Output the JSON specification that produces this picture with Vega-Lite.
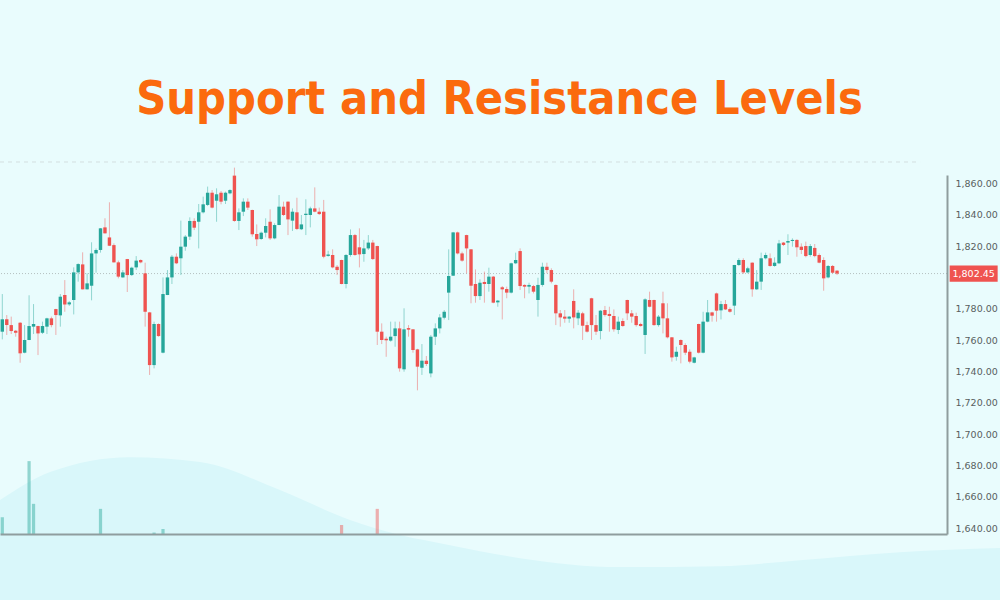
{
  "$schema": "https://vega.github.io/schema/vega-lite/v6.json",
  "width": 947,
  "height": 359,
  "autosize": {"type": "none"},
  "padding": {"left": 0, "top": 175, "right": 53, "bottom": 66},
  "background": "#e9fcfd",
  "config": {"view": {"stroke": null}},
  "title": {
    "text": "Support and Resistance Levels",
    "color": "#fb6a0e",
    "font": "DejaVu Sans Condensed",
    "fontWeight": "bold",
    "fontSize": 46.5,
    "anchor": "middle",
    "dx": 26,
    "dy": 61,
    "baseline": "alphabetic",
    "offset": 62
  },
  "datasets": {
    "candles": [
      {"i":0,"o":1765.4,"h":1789.4,"l":1760.5,"c":1773.3},
      {"i":1,"o":1773.3,"h":1776.0,"l":1763.3,"c":1769.6},
      {"i":2,"o":1769.6,"h":1775.0,"l":1763.9,"c":1765.8},
      {"i":3,"o":1766.0,"h":1766.5,"l":1762.2,"c":1764.7},
      {"i":4,"o":1771.1,"h":1771.5,"l":1745.6,"c":1751.6},
      {"i":5,"o":1752.0,"h":1769.6,"l":1751.6,"c":1760.1},
      {"i":6,"o":1760.1,"h":1788.6,"l":1760.0,"c":1769.0},
      {"i":7,"o":1768.6,"h":1783.0,"l":1763.9,"c":1770.3},
      {"i":8,"o":1769.0,"h":1769.2,"l":1750.5,"c":1764.3},
      {"i":9,"o":1764.7,"h":1771.8,"l":1763.9,"c":1769.0},
      {"i":10,"o":1768.6,"h":1774.3,"l":1763.9,"c":1773.9},
      {"i":11,"o":1773.9,"h":1775.0,"l":1768.2,"c":1769.6},
      {"i":12,"o":1779.8,"h":1780.0,"l":1763.3,"c":1776.0},
      {"i":13,"o":1775.8,"h":1789.4,"l":1768.6,"c":1787.7},
      {"i":14,"o":1788.8,"h":1798.3,"l":1778.1,"c":1782.8},
      {"i":15,"o":1782.8,"h":1784.9,"l":1781.8,"c":1784.1},
      {"i":16,"o":1785.6,"h":1806.4,"l":1776.4,"c":1803.2},
      {"i":17,"o":1803.2,"h":1809.0,"l":1797.3,"c":1808.5},
      {"i":18,"o":1808.3,"h":1816.0,"l":1792.3,"c":1792.4},
      {"i":19,"o":1792.4,"h":1802.6,"l":1792.3,"c":1796.2},
      {"i":20,"o":1794.7,"h":1822.4,"l":1785.4,"c":1815.3},
      {"i":21,"o":1815.3,"h":1818.5,"l":1803.0,"c":1817.5},
      {"i":22,"o":1817.5,"h":1831.5,"l":1815.8,"c":1831.3},
      {"i":23,"o":1831.9,"h":1837.7,"l":1828.0,"c":1828.1},
      {"i":24,"o":1825.5,"h":1847.9,"l":1820.0,"c":1820.2},
      {"i":25,"o":1820.6,"h":1821.7,"l":1809.5,"c":1809.6},
      {"i":26,"o":1809.6,"h":1810.7,"l":1799.4,"c":1800.5},
      {"i":27,"o":1800.0,"h":1804.7,"l":1799.8,"c":1803.2},
      {"i":28,"o":1811.7,"h":1811.8,"l":1790.7,"c":1801.5},
      {"i":29,"o":1801.5,"h":1806.8,"l":1800.9,"c":1806.2},
      {"i":30,"o":1806.4,"h":1813.6,"l":1804.7,"c":1810.7},
      {"i":31,"o":1811.1,"h":1811.5,"l":1809.0,"c":1809.6},
      {"i":32,"o":1802.6,"h":1809.4,"l":1768.6,"c":1778.1},
      {"i":33,"o":1777.7,"h":1778.0,"l":1737.8,"c":1744.1},
      {"i":34,"o":1744.1,"h":1771.8,"l":1742.0,"c":1770.3},
      {"i":35,"o":1770.3,"h":1770.7,"l":1762.2,"c":1762.6},
      {"i":36,"o":1752.0,"h":1800.0,"l":1751.6,"c":1789.4},
      {"i":37,"o":1788.8,"h":1804.7,"l":1788.7,"c":1800.0},
      {"i":38,"o":1800.0,"h":1814.3,"l":1795.8,"c":1813.2},
      {"i":39,"o":1813.2,"h":1815.3,"l":1808.5,"c":1809.0},
      {"i":40,"o":1812.2,"h":1836.2,"l":1801.5,"c":1819.6},
      {"i":41,"o":1819.6,"h":1827.0,"l":1817.0,"c":1826.0},
      {"i":42,"o":1826.0,"h":1838.3,"l":1823.9,"c":1836.0},
      {"i":43,"o":1836.0,"h":1837.7,"l":1830.2,"c":1831.7},
      {"i":44,"o":1835.5,"h":1846.8,"l":1818.5,"c":1841.5},
      {"i":45,"o":1841.5,"h":1851.5,"l":1840.8,"c":1846.6},
      {"i":46,"o":1846.2,"h":1857.9,"l":1845.5,"c":1854.0},
      {"i":47,"o":1854.0,"h":1855.7,"l":1844.0,"c":1844.5},
      {"i":48,"o":1848.9,"h":1856.8,"l":1835.5,"c":1853.0},
      {"i":49,"o":1854.0,"h":1855.1,"l":1846.6,"c":1848.3},
      {"i":50,"o":1848.9,"h":1854.7,"l":1846.8,"c":1854.0},
      {"i":51,"o":1853.6,"h":1856.2,"l":1853.0,"c":1855.7},
      {"i":52,"o":1864.9,"h":1870.0,"l":1835.5,"c":1836.0},
      {"i":53,"o":1836.0,"h":1844.0,"l":1830.2,"c":1841.5},
      {"i":54,"o":1841.9,"h":1850.4,"l":1839.1,"c":1848.3},
      {"i":55,"o":1848.3,"h":1850.4,"l":1843.0,"c":1844.5},
      {"i":56,"o":1843.0,"h":1843.2,"l":1826.0,"c":1827.5},
      {"i":57,"o":1827.7,"h":1833.8,"l":1820.0,"c":1824.3},
      {"i":58,"o":1824.5,"h":1829.2,"l":1823.9,"c":1828.5},
      {"i":59,"o":1828.5,"h":1837.7,"l":1825.5,"c":1832.8},
      {"i":60,"o":1835.5,"h":1843.4,"l":1823.9,"c":1824.9},
      {"i":61,"o":1824.9,"h":1834.5,"l":1824.3,"c":1833.4},
      {"i":62,"o":1833.4,"h":1852.5,"l":1833.3,"c":1845.1},
      {"i":63,"o":1845.1,"h":1848.3,"l":1839.2,"c":1839.8},
      {"i":64,"o":1848.3,"h":1848.5,"l":1827.0,"c":1837.0},
      {"i":65,"o":1836.2,"h":1844.0,"l":1829.6,"c":1841.9},
      {"i":66,"o":1841.5,"h":1850.8,"l":1830.2,"c":1830.9},
      {"i":67,"o":1830.7,"h":1839.8,"l":1830.2,"c":1833.8},
      {"i":68,"o":1839.8,"h":1849.8,"l":1827.0,"c":1840.6},
      {"i":69,"o":1839.8,"h":1845.1,"l":1831.9,"c":1844.0},
      {"i":70,"o":1844.0,"h":1857.4,"l":1841.5,"c":1841.9},
      {"i":71,"o":1841.9,"h":1844.5,"l":1839.8,"c":1840.4},
      {"i":72,"o":1841.9,"h":1849.4,"l":1812.2,"c":1813.2},
      {"i":73,"o":1813.7,"h":1817.0,"l":1813.2,"c":1814.6},
      {"i":74,"o":1814.3,"h":1817.9,"l":1805.8,"c":1806.4},
      {"i":75,"o":1806.8,"h":1807.9,"l":1801.5,"c":1804.7},
      {"i":76,"o":1811.1,"h":1811.3,"l":1795.6,"c":1795.8},
      {"i":77,"o":1795.8,"h":1814.9,"l":1793.0,"c":1814.3},
      {"i":78,"o":1814.3,"h":1830.6,"l":1813.2,"c":1827.0},
      {"i":79,"o":1827.0,"h":1827.7,"l":1813.8,"c":1814.3},
      {"i":80,"o":1819.2,"h":1831.3,"l":1806.4,"c":1814.7},
      {"i":81,"o":1814.9,"h":1823.9,"l":1810.0,"c":1818.5},
      {"i":82,"o":1818.5,"h":1827.0,"l":1817.5,"c":1822.2},
      {"i":83,"o":1822.2,"h":1823.9,"l":1811.1,"c":1811.7},
      {"i":84,"o":1820.0,"h":1820.2,"l":1756.9,"c":1765.4},
      {"i":85,"o":1765.4,"h":1770.7,"l":1757.5,"c":1760.1},
      {"i":86,"o":1760.9,"h":1762.2,"l":1749.4,"c":1759.9},
      {"i":87,"o":1759.7,"h":1771.8,"l":1759.0,"c":1762.2},
      {"i":88,"o":1762.6,"h":1771.8,"l":1755.8,"c":1767.5},
      {"i":89,"o":1767.5,"h":1771.8,"l":1739.9,"c":1742.0},
      {"i":90,"o":1741.4,"h":1780.3,"l":1739.9,"c":1766.9},
      {"i":91,"o":1767.7,"h":1769.6,"l":1762.2,"c":1766.7},
      {"i":92,"o":1766.9,"h":1767.0,"l":1752.0,"c":1753.7},
      {"i":93,"o":1754.1,"h":1754.5,"l":1728.0,"c":1743.1},
      {"i":94,"o":1742.4,"h":1757.5,"l":1737.8,"c":1746.9},
      {"i":95,"o":1746.9,"h":1749.9,"l":1743.5,"c":1744.8},
      {"i":96,"o":1738.8,"h":1763.3,"l":1736.3,"c":1762.2},
      {"i":97,"o":1762.2,"h":1770.7,"l":1756.9,"c":1767.5},
      {"i":98,"o":1767.5,"h":1776.6,"l":1764.3,"c":1774.5},
      {"i":99,"o":1774.3,"h":1779.2,"l":1773.2,"c":1778.1},
      {"i":100,"o":1790.3,"h":1817.9,"l":1772.8,"c":1800.9},
      {"i":101,"o":1801.1,"h":1829.0,"l":1800.9,"c":1828.7},
      {"i":102,"o":1828.7,"h":1829.2,"l":1814.7,"c":1815.3},
      {"i":103,"o":1815.3,"h":1816.4,"l":1810.0,"c":1810.7},
      {"i":104,"o":1827.0,"h":1827.2,"l":1802.6,"c":1818.5},
      {"i":105,"o":1817.9,"h":1818.1,"l":1783.5,"c":1794.7},
      {"i":106,"o":1795.8,"h":1805.1,"l":1783.9,"c":1788.1},
      {"i":107,"o":1788.1,"h":1798.8,"l":1785.6,"c":1796.6},
      {"i":108,"o":1797.1,"h":1803.7,"l":1783.9,"c":1795.8},
      {"i":109,"o":1795.8,"h":1806.2,"l":1790.9,"c":1800.5},
      {"i":110,"o":1800.5,"h":1800.9,"l":1783.5,"c":1783.9},
      {"i":111,"o":1784.1,"h":1785.6,"l":1781.3,"c":1785.2},
      {"i":112,"o":1793.7,"h":1794.5,"l":1773.2,"c":1792.4},
      {"i":113,"o":1792.6,"h":1794.1,"l":1786.7,"c":1790.3},
      {"i":114,"o":1790.3,"h":1809.4,"l":1789.8,"c":1809.0},
      {"i":115,"o":1809.0,"h":1815.8,"l":1808.5,"c":1811.1},
      {"i":116,"o":1816.8,"h":1818.5,"l":1792.0,"c":1794.5},
      {"i":117,"o":1795.2,"h":1795.6,"l":1786.7,"c":1794.1},
      {"i":118,"o":1794.1,"h":1796.6,"l":1789.8,"c":1795.2},
      {"i":119,"o":1794.5,"h":1795.2,"l":1789.8,"c":1790.9},
      {"i":120,"o":1785.6,"h":1799.8,"l":1775.0,"c":1795.2},
      {"i":121,"o":1795.2,"h":1809.4,"l":1794.1,"c":1806.8},
      {"i":122,"o":1806.8,"h":1809.4,"l":1802.6,"c":1804.7},
      {"i":123,"o":1804.7,"h":1805.8,"l":1796.2,"c":1797.3},
      {"i":124,"o":1795.2,"h":1795.5,"l":1769.6,"c":1777.1},
      {"i":125,"o":1777.1,"h":1779.2,"l":1768.6,"c":1774.5},
      {"i":126,"o":1775.0,"h":1779.2,"l":1771.1,"c":1773.7},
      {"i":127,"o":1773.7,"h":1775.4,"l":1771.1,"c":1775.0},
      {"i":128,"o":1785.0,"h":1792.4,"l":1767.5,"c":1774.5},
      {"i":129,"o":1773.9,"h":1779.2,"l":1769.6,"c":1777.5},
      {"i":130,"o":1777.1,"h":1778.1,"l":1760.1,"c":1769.2},
      {"i":131,"o":1769.6,"h":1771.8,"l":1764.8,"c":1765.4},
      {"i":132,"o":1786.7,"h":1787.0,"l":1760.1,"c":1769.6},
      {"i":133,"o":1769.6,"h":1776.0,"l":1763.3,"c":1765.4},
      {"i":134,"o":1765.8,"h":1779.2,"l":1760.5,"c":1778.8},
      {"i":135,"o":1779.2,"h":1781.8,"l":1775.0,"c":1776.0},
      {"i":136,"o":1776.7,"h":1781.3,"l":1765.4,"c":1775.4},
      {"i":137,"o":1775.4,"h":1779.6,"l":1765.4,"c":1766.9},
      {"i":138,"o":1766.5,"h":1775.0,"l":1763.9,"c":1771.8},
      {"i":139,"o":1772.2,"h":1773.9,"l":1768.6,"c":1769.0},
      {"i":140,"o":1785.6,"h":1785.8,"l":1772.8,"c":1777.1},
      {"i":141,"o":1777.1,"h":1779.2,"l":1771.1,"c":1775.0},
      {"i":142,"o":1775.4,"h":1777.5,"l":1768.6,"c":1769.6},
      {"i":143,"o":1770.3,"h":1771.1,"l":1768.6,"c":1769.0},
      {"i":144,"o":1763.3,"h":1786.7,"l":1751.2,"c":1786.0},
      {"i":145,"o":1785.6,"h":1790.9,"l":1780.9,"c":1781.3},
      {"i":146,"o":1785.6,"h":1785.8,"l":1769.2,"c":1769.6},
      {"i":147,"o":1769.6,"h":1776.0,"l":1768.6,"c":1775.0},
      {"i":148,"o":1783.5,"h":1790.9,"l":1764.3,"c":1773.9},
      {"i":149,"o":1773.9,"h":1783.5,"l":1761.1,"c":1761.8},
      {"i":150,"o":1761.8,"h":1762.0,"l":1746.3,"c":1749.0},
      {"i":151,"o":1749.4,"h":1755.8,"l":1746.9,"c":1752.6},
      {"i":152,"o":1760.1,"h":1760.5,"l":1745.2,"c":1756.9},
      {"i":153,"o":1756.9,"h":1758.0,"l":1750.5,"c":1752.0},
      {"i":154,"o":1752.6,"h":1754.1,"l":1745.2,"c":1746.3},
      {"i":155,"o":1745.6,"h":1749.4,"l":1745.2,"c":1749.0},
      {"i":156,"o":1770.3,"h":1770.5,"l":1751.5,"c":1752.0},
      {"i":157,"o":1752.0,"h":1778.1,"l":1751.6,"c":1771.8},
      {"i":158,"o":1771.8,"h":1785.6,"l":1771.4,"c":1777.7},
      {"i":159,"o":1777.7,"h":1778.1,"l":1771.8,"c":1775.6},
      {"i":160,"o":1789.8,"h":1790.3,"l":1771.8,"c":1778.8},
      {"i":161,"o":1779.0,"h":1785.0,"l":1773.2,"c":1783.0},
      {"i":162,"o":1783.0,"h":1785.6,"l":1779.2,"c":1779.6},
      {"i":163,"o":1779.8,"h":1780.9,"l":1777.5,"c":1778.1},
      {"i":164,"o":1782.0,"h":1808.0,"l":1776.0,"c":1807.9},
      {"i":165,"o":1807.9,"h":1812.2,"l":1807.3,"c":1811.1},
      {"i":166,"o":1811.1,"h":1812.2,"l":1802.2,"c":1803.2},
      {"i":167,"o":1803.2,"h":1806.8,"l":1802.6,"c":1805.8},
      {"i":168,"o":1809.4,"h":1809.6,"l":1787.7,"c":1792.4},
      {"i":169,"o":1792.4,"h":1804.7,"l":1792.0,"c":1797.3},
      {"i":170,"o":1797.3,"h":1815.8,"l":1792.0,"c":1812.2},
      {"i":171,"o":1812.2,"h":1815.8,"l":1811.5,"c":1814.3},
      {"i":172,"o":1812.2,"h":1815.3,"l":1806.8,"c":1807.3},
      {"i":173,"o":1807.3,"h":1812.8,"l":1806.8,"c":1809.4},
      {"i":174,"o":1809.0,"h":1823.9,"l":1808.5,"c":1821.7},
      {"i":175,"o":1822.2,"h":1822.6,"l":1820.0,"c":1820.7},
      {"i":176,"o":1822.2,"h":1827.5,"l":1814.3,"c":1823.2},
      {"i":177,"o":1823.2,"h":1824.9,"l":1819.6,"c":1823.9},
      {"i":178,"o":1823.9,"h":1824.3,"l":1813.2,"c":1819.2},
      {"i":179,"o":1819.6,"h":1821.7,"l":1814.9,"c":1817.5},
      {"i":180,"o":1820.0,"h":1822.8,"l":1812.8,"c":1813.6},
      {"i":181,"o":1814.3,"h":1821.3,"l":1813.2,"c":1820.0},
      {"i":182,"o":1818.8,"h":1821.3,"l":1812.8,"c":1813.6},
      {"i":183,"o":1814.3,"h":1815.3,"l":1809.0,"c":1809.4},
      {"i":184,"o":1811.1,"h":1812.8,"l":1791.5,"c":1799.4},
      {"i":185,"o":1800.0,"h":1807.9,"l":1799.4,"c":1807.3},
      {"i":186,"o":1807.3,"h":1807.9,"l":1802.6,"c":1803.0},
      {"i":187,"o":1804.3,"h":1804.7,"l":1801.5,"c":1802.45}
    ],
    "volume": [
      {"i":0,"vol":47,"up":true},
      {"i":6,"vol":203,"up":true},
      {"i":7,"vol":84,"up":true},
      {"i":22,"vol":70,"up":true},
      {"i":34,"vol":4,"up":true},
      {"i":36,"vol":14,"up":true},
      {"i":76,"vol":25,"up":false},
      {"i":84,"vol":70,"up":false}
    ],
    "wave": [
      {"i":-0.52,"w":1658.0},
      {"i":10.7,"w":1675.9},
      {"i":28.6,"w":1685.4},
      {"i":44.3,"w":1682.3},
      {"i":62.2,"w":1664.4},
      {"i":77.9,"w":1645.3},
      {"i":89.1,"w":1635.7},
      {"i":100.3,"w":1629.3},
      {"i":116.0,"w":1621.0},
      {"i":138.4,"w":1615.3},
      {"i":160.8,"w":1615.9},
      {"i":178.7,"w":1619.7},
      {"i":201.1,"w":1624.8},
      {"i":223.5,"w":1627.4}
    ],
    "last": [{"p":1802.45,"label":"1,802.45"}]
  },
  "layer": [
    {
      "layer": [
        {
          "data": {"name": "wave"},
          "mark": {"type": "area", "interpolate": "monotone", "color": "#d9f7fa"},
          "encoding": {
            "x": {"field": "i", "type": "quantitative", "scale": {"domain": [-0.515, 211.63], "nice": false, "zero": false, "padding": 0},
              "axis": {"orient": "bottom", "labels": false, "ticks": false, "title": null, "grid": false, "domainColor": "#8f9d9e", "domainWidth": 2, "zindex": 1}},
            "y": {"field": "w", "type": "quantitative", "scale": {"domain": [1636.4, 1865.3], "nice": false, "zero": false, "padding": 0},
              "axis": {"orient": "right", "values": [1640,1660,1680,1700,1720,1740,1760,1780,1820,1840,1860], "tickCount": 30, "format": ",.2f", "ticks": false, "labelPadding": 8, "labelOverlap": false, "labelFlush": false, "title": null, "grid": false, "domainColor": "#8f9d9e", "domainWidth": 2, "labelColor": "#585f60", "labelFont": "DejaVu Sans", "labelFontSize": 9.5, "zindex": 1}},
            "y2": {"datum": 1594}
          }
        },
        {
          "data": {"values": [{}]},
          "mark": {"type": "rule", "color": "#d3dfe0", "strokeDash": [4, 4], "strokeWidth": 1},
          "encoding": {
            "x": {"datum": -0.515, "type": "quantitative"},
            "x2": {"datum": 205.6},
            "y": {"datum": 1873.6, "type": "quantitative"}
          }
        },
        {
          "data": {"name": "last"},
          "mark": {"type": "rule", "color": "#b5c0c1", "strokeDash": [1, 2], "strokeWidth": 1},
          "encoding": {
            "y": {"field": "p", "type": "quantitative"}
          }
        },
        {
          "data": {"name": "candles"},
          "mark": {"type": "rule", "strokeWidth": 1, "opacity": 0.45},
          "encoding": {
            "x": {"field": "i", "type": "quantitative"},
            "y": {"field": "l", "type": "quantitative"},
            "y2": {"field": "h"},
            "color": {"condition": {"test": "datum.c >= datum.o", "value": "#26a69a"}, "value": "#ef5350"}
          }
        },
        {
          "data": {"name": "candles"},
          "mark": {"type": "bar", "size": 3.4},
          "encoding": {
            "x": {"field": "i", "type": "quantitative"},
            "y": {"field": "o", "type": "quantitative"},
            "y2": {"field": "c"},
            "color": {"condition": {"test": "datum.c >= datum.o", "value": "#26a69a"}, "value": "#ef5350"}
          }
        },
        {
          "data": {"name": "last"},
          "mark": {"type": "point", "shape": "M-1,-0.34L1,-0.34L1,0.34L-1,0.34Z", "filled": true, "opacity": 1, "size": 2304, "color": "#ef5350"},
          "encoding": {
            "x": {"datum": 217.6, "type": "quantitative"},
            "y": {"field": "p", "type": "quantitative"}
          }
        },
        {
          "data": {"name": "last"},
          "mark": {"type": "text", "color": "#ffffff", "font": "DejaVu Sans", "fontSize": 9.5, "align": "center", "baseline": "middle"},
          "encoding": {
            "x": {"datum": 217.6, "type": "quantitative"},
            "y": {"field": "p", "type": "quantitative"},
            "text": {"field": "label"}
          }
        }
      ]
    },
    {
      "data": {"name": "volume"},
      "mark": {"type": "bar", "size": 3.2, "opacity": 0.45},
      "encoding": {
        "x": {"field": "i", "type": "quantitative"},
        "y": {"field": "vol", "type": "quantitative", "scale": {"domain": [0, 1000], "nice": false}, "axis": null},
        "color": {"condition": {"test": "datum.up", "value": "#26a69a"}, "value": "#ef5350"}
      }
    }
  ],
  "resolve": {"scale": {"y": "independent"}}
}
